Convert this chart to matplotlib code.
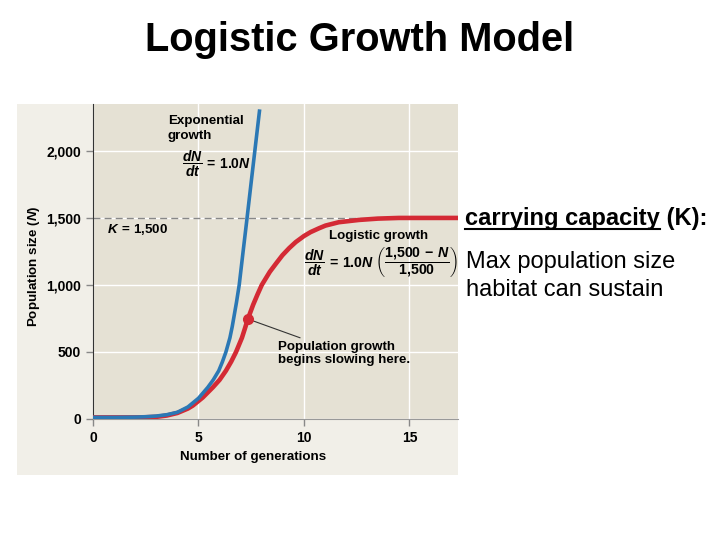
import matplotlib
matplotlib.use("Agg")
import matplotlib.pyplot as plt
from matplotlib.patches import Rectangle

plt.rcParams['font.family'] = ['Liberation Sans', 'DejaVu Sans']
plt.rcParams['mathtext.fontset'] = 'custom'
plt.rcParams['mathtext.rm'] = 'Liberation Sans:bold'
plt.rcParams['mathtext.it'] = 'Liberation Sans:italic:bold'
plt.rcParams['mathtext.bf'] = 'Liberation Sans:bold'

# values
exp_gen = [0, 1, 2, 2.5, 3, 3.5, 4, 4.5, 5.0, 5.44, 5.7, 5.96, 6.13, 6.3, 6.49, 6.6, 6.8,
           6.93, 7.1, 7.28, 7.5, 7.7, 7.9]
exp_pop = [12, 12, 14, 17, 22, 32, 50, 90, 155, 236, 292, 360, 425, 500, 606, 690, 870,
           1000, 1230, 1470, 1770, 2040, 2310]

log_gen = [0, 1, 2, 2.5, 3, 3.5, 4, 4.5, 4.73, 5.2, 5.68, 6.0, 6.3, 6.55, 6.78, 7.06, 7.2,
           7.34, 7.59, 7.8, 8.0, 8.38, 8.7, 8.98, 9.3, 9.61, 10.0, 10.31, 10.7, 11.02, 11.65,
           12.6, 13.5, 14.5, 17.3]
log_pop = [12, 12, 12, 13, 16, 26, 45, 78, 100, 160, 236, 292, 360, 428, 500, 606, 675,
           746, 852, 930, 1000, 1098, 1165, 1222, 1275, 1320, 1365, 1394, 1422, 1443, 1468,
           1485, 1495, 1500, 1500]

K = 1500
slow_gen, slow_pop = 7.34, 746

x_ticks = [0, 5, 10, 15]
y_ticks = [0, 500, 1000, 1500, 2000]
y_labels = ['0', '500', '1,000', '1,500', '2,000']

fig = plt.figure(figsize=(7.2, 5.4), dpi=100)
fig.patches.append(Rectangle((17 / 720, 1 - 475 / 540), 441 / 720, 371 / 540,
                             transform=fig.transFigure, facecolor='#f1efe8',
                             edgecolor='none', zorder=0))

ax = fig.add_axes([93 / 720, 1 - 419 / 540, 365 / 720, 315 / 540])
ax.set_zorder(2)
ax.set_facecolor('#e5e1d4')
ax.set_xlim(0, 17.3)
ax.set_ylim(0, 2350)
ax.set_xticks(x_ticks)
ax.set_yticks(y_ticks)
ax.set_yticklabels(y_labels)
ax.grid(True, color='white', linewidth=1)
ax.set_axisbelow(True)
for s in ['top', 'right']:
    ax.spines[s].set_visible(False)
ax.spines['left'].set_color('#333333')
ax.spines['bottom'].set_color('#999999')
ax.tick_params(axis='both', colors='#888888', labelcolor='black', length=5, width=1,
               labelsize=10)
for lab in ax.get_xticklabels() + ax.get_yticklabels():
    lab.set_fontweight('bold')

ax.axhline(K, color='#888888', linestyle=(0, (5, 3)), linewidth=1, zorder=1)
ax.plot(log_gen, log_pop, color='#d42a35', linewidth=3.3, zorder=3,
        solid_capstyle='butt', solid_joinstyle='round')
ax.plot(exp_gen, exp_pop, color='#2b78b5', linewidth=2.6, zorder=4,
        solid_capstyle='butt', solid_joinstyle='round')
ax.plot([slow_gen], [slow_pop], 'o', color='#d42a35', markersize=7, zorder=5)

ax.set_xlabel('Number of generations', fontsize=9.6, fontweight='bold')
ax.xaxis.set_label_coords(7.57 / 17.3, -32 / 315)
ax.set_ylabel(r'Population size ($N$)', fontsize=9.6, fontweight='bold')
ax.yaxis.set_label_coords(-51 / 365, 0.486)

ax.text(3.55, 2265, 'Exponential\ngrowth', fontsize=9.6, fontweight='bold',
        va='top', ha='left', linespacing=1.3)
ax.text(4.2, 1905, r'$\dfrac{dN}{dt}\,=\,\mathrm{1.0}N$', fontsize=10, va='center', ha='left')
ax.text(0.66, 1410, r'$K\,=\,\mathrm{1{,}500}$', fontsize=9.6, va='center', ha='left')
ax.text(11.2, 1366, 'Logistic growth', fontsize=9.6, fontweight='bold', va='center', ha='left')
ax.text(10.0, 1165,
        r'$\dfrac{dN}{dt}\,=\,\mathrm{1.0}N\;\left(\dfrac{\mathrm{1{,}500}\,-\,N}{\mathrm{1{,}500}}\right)$',
        fontsize=10.2, va='center', ha='left')
ax.annotate('Population growth\nbegins slowing here.', xy=(slow_gen, slow_pop),
            xytext=(8.75, 585), fontsize=9.6, fontweight='bold', va='top', ha='left',
            linespacing=1.2,
            arrowprops=dict(arrowstyle='-', color='#333333', linewidth=0.8,
                            shrinkA=0, shrinkB=3))

fig.text(0.5, 1 - 40 / 540, 'Logistic Growth Model', fontsize=28.7, fontweight='bold',
         ha='center', va='center')

t1 = fig.text(465 / 720, 1 - 225 / 540, 'carrying capacity', fontsize=17,
              fontweight='bold', va='baseline')
fig.canvas.draw()
bb = t1.get_window_extent()
fig.text(bb.x1 / 720, 1 - 225 / 540, ' (K):', fontsize=17, fontweight='bold', va='baseline')
fig.add_artist(plt.Line2D([bb.x0 / 720, bb.x1 / 720], [1 - 229 / 540, 1 - 229 / 540],
                          color='black', linewidth=1.5, transform=fig.transFigure))
fig.text(466 / 720, 1 - 268 / 540, 'Max population size', fontsize=17, va='baseline')
fig.text(466 / 720, 1 - 296 / 540, 'habitat can sustain', fontsize=17, va='baseline')

fig.savefig('out.png', dpi=100)
